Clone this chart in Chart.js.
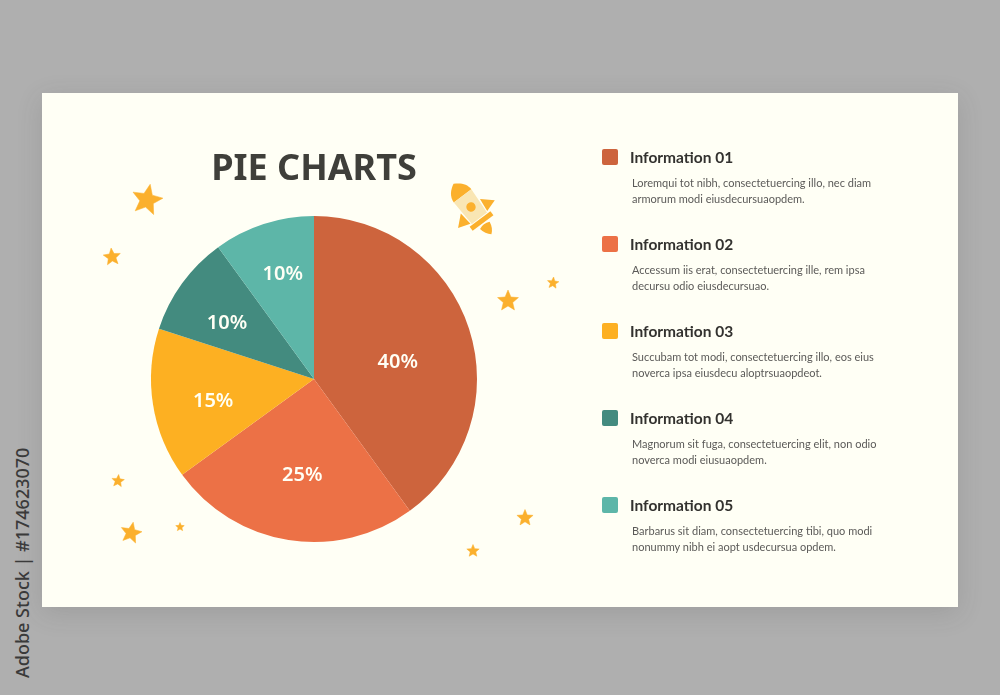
<!DOCTYPE html>
<html>
<head>
<meta charset="utf-8">
<title>Pie Charts</title>
<script src="https://cdn.jsdelivr.net/npm/chart.js@4"></script>
<style>
    html, body { margin: 0; padding: 0; }
    body {
        width: 1000px; height: 695px; overflow: hidden; position: relative;
        background: #afafaf;
        font-family: "Noto Sans", sans-serif;
    }
    #card {
        position: absolute; left: 42px; top: 93px; width: 916px; height: 514px;
        background: #fffff5;
        box-shadow: 0 6px 24px rgba(70, 70, 70, 0.16);
    }
    #pieChart { position: absolute; left: 0; top: 0; }
    #title {
        position: absolute; left: 0; top: 49px; width: 544px; text-align: center;
        font-size: 36px; line-height: 50px; font-weight: 700; color: #3f3f3a;
    }
    .swatch { position: absolute; left: 560px; width: 16px; height: 16px; border-radius: 2px; }
    .info-name {
        position: absolute; left: 588px; font-family: Lato, sans-serif; font-size: 15.5px; line-height: 20px;
        font-weight: 700; color: #33322f; white-space: nowrap;
    }
    .info-text {
        position: absolute; left: 590px; font-family: Lato, sans-serif; font-size: 11px; line-height: 15.5px;
        color: #5b5a58; white-space: nowrap;
    }
    #credit {
        position: absolute; left: 22px; top: 678px;
        transform-origin: 0 0; transform: rotate(-90deg) translateY(-50%);
        font-size: 18px; line-height: 20px; font-weight: 500; color: #3a3a3a; white-space: nowrap;
    }
</style>
</head>
<body>
<div id="card">
    <canvas id="pieChart" width="916" height="514"></canvas>
    <div id="title">PIE CHARTS</div>
</div>
<div id="credit">Adobe Stock | #174623070</div>

<script>
const names = ['Information 01', 'Information 02', 'Information 03', 'Information 04', 'Information 05'];
const shares = [40, 25, 15, 10, 10];
const colors = ['#cd643d', '#ec7146', '#fdb022', '#438b7f', '#5db6a8'];
const blurbs = [
    ['Loremqui tot nibh, consectetuercing illo, nec diam', 'armorum modi eiusdecursuaopdem.'],
    ['Accessum iis erat, consectetuercing ille, rem ipsa', 'decursu odio eiusdecursuao.'],
    ['Succubam tot modi, consectetuercing illo, eos eius', 'noverca ipsa eiusdecu aloptrsuaopdeot.'],
    ['Magnorum sit fuga, consectetuercing elit, non odio', 'noverca modi eiusuaopdem.'],
    ['Barbarus sit diam, consectetuercing tibi, quo modi', 'nonummy nibh ei aopt usdecursua opdem.']
];

// label distance from the centre as a share of the radius, then a small nudge in px
const labelReach = [0.54, 0.58, 0.62, 0.66, 0.68];
const labelNudge = [[0, 10], [3, 3], [-1, 6], [0, 8], [3, 1]];

// decoration around the pie, in canvas px: x, y, outer radius, rotation
const stars = [
    [105, 107, 16, 0.2], [70, 164, 9, -0.1], [466, 208, 11, 0], [511, 190, 6, 0.1],
    [76, 388, 6.5, 0.1], [89, 440, 11, 0.2], [138, 434, 4.5, 0], [483, 425, 8.5, 0], [431, 458, 6.5, 0]
];
const orange = '#fbb02d';

function drawStar(ctx, x, y, r, rot) {
    ctx.save();
    ctx.translate(x, y);
    ctx.rotate(rot);
    ctx.beginPath();
    for (let i = 0; i < 10; i++) {
        const d = i % 2 ? r * 0.45 : r;
        const a = i * Math.PI / 5;
        ctx.lineTo(d * Math.sin(a), -d * Math.cos(a));
    }
    ctx.closePath();
    ctx.fillStyle = orange;
    ctx.strokeStyle = orange;
    ctx.lineJoin = 'round';
    ctx.lineWidth = 0.5;
    ctx.fill();
    ctx.stroke();
    ctx.restore();
}

function drawRocket(ctx, x, y) {
    ctx.save();
    ctx.translate(x, y);
    ctx.rotate(-37 * Math.PI / 180);

    // nose
    ctx.fillStyle = orange;
    ctx.beginPath();
    ctx.moveTo(-11, -14);
    ctx.bezierCurveTo(-11, -21, -6, -26, 0, -29);
    ctx.bezierCurveTo(6, -26, 11, -21, 11, -14);
    ctx.closePath();
    ctx.fill();

    // body
    ctx.fillStyle = '#f9e6b4';
    ctx.beginPath();
    ctx.moveTo(-11, -14);
    ctx.lineTo(11, -14);
    ctx.lineTo(9.5, 14);
    ctx.lineTo(-9.5, 14);
    ctx.closePath();
    ctx.fill();

    // window
    ctx.fillStyle = orange;
    ctx.beginPath();
    ctx.arc(0, 0, 4.7, 0, Math.PI * 2);
    ctx.fill();

    // base bar
    ctx.fillRect(-13, 15, 26, 5);

    // fins
    ctx.beginPath();
    ctx.moveTo(12, -1); ctx.lineTo(23, 9); ctx.lineTo(10.5, 13);
    ctx.closePath();
    ctx.fill();
    ctx.beginPath();
    ctx.moveTo(-12, -1); ctx.lineTo(-23, 9); ctx.lineTo(-10.5, 13);
    ctx.closePath();
    ctx.fill();

    // flame
    ctx.beginPath();
    ctx.moveTo(-6, 23);
    ctx.quadraticCurveTo(0, 20, 6, 23);
    ctx.quadraticCurveTo(5, 30, 0, 34);
    ctx.quadraticCurveTo(-5, 30, -6, 23);
    ctx.fill();
    ctx.restore();
}

const decorPlugin = {
    id: 'decor',
    afterDraw(chart) {
        const ctx = chart.ctx;
        stars.forEach(s => drawStar(ctx, s[0], s[1], s[2], s[3]));
        drawRocket(ctx, 429, 114);
    }
};

const sliceLabels = {
    id: 'sliceLabels',
    afterDatasetsDraw(chart) {
        const ctx = chart.ctx;
        ctx.save();
        ctx.font = '600 20px "Noto Sans"';
        ctx.fillStyle = '#fffff5';
        ctx.textAlign = 'center';
        ctx.textBaseline = 'middle';
        chart.getDatasetMeta(0).data.forEach((arc, i) => {
            const mid = (arc.startAngle + arc.endAngle) / 2;
            const r = arc.outerRadius * labelReach[i];
            const x = arc.x + r * Math.cos(mid) + labelNudge[i][0];
            const y = arc.y + r * Math.sin(mid) + labelNudge[i][1];
            ctx.fillText(shares[i] + '%', x, y);
        });
        ctx.restore();
    }
};

new Chart(document.getElementById('pieChart').getContext('2d'), {
    type: 'pie',
    data: {
        labels: names,
        datasets: [{ data: shares, backgroundColor: colors, borderWidth: 0 }]
    },
    options: {
        responsive: false,
        animation: false,
        layout: { padding: { left: 109, top: 123, right: 481, bottom: 65 } },
        plugins: { legend: { display: false }, tooltip: { enabled: false } }
    },
    plugins: [sliceLabels, decorPlugin]
});

// info list to the right of the pie
const card = document.getElementById('card');
names.forEach((name, i) => {
    const top = 56 + i * 87;

    const swatch = document.createElement('div');
    swatch.className = 'swatch';
    swatch.style.top = top + 'px';
    swatch.style.background = colors[i];
    card.appendChild(swatch);

    const label = document.createElement('div');
    label.className = 'info-name';
    label.style.top = (top - 2) + 'px';
    label.textContent = name;
    card.appendChild(label);

    const text = document.createElement('div');
    text.className = 'info-text';
    text.style.top = (top + 26) + 'px';
    text.innerHTML = blurbs[i].join('<br>');
    card.appendChild(text);
});
</script>
</body>
</html>
